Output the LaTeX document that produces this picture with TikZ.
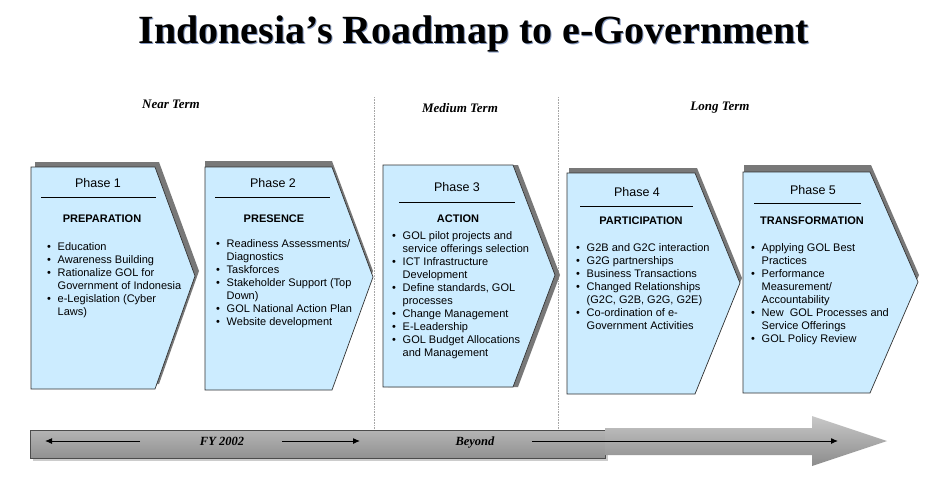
\documentclass[tikz,border=0pt]{standalone}
\usepackage{fontspec}
\setmainfont{Liberation Serif}
\newfontfamily\arialf{Liberation Sans}
\usetikzlibrary{arrows.meta}
\definecolor{boxfill}{RGB}{204,236,255}
\definecolor{boxline}{RGB}{50,50,50}
\definecolor{shadowgray}{RGB}{120,120,120}
\definecolor{titleshadow}{RGB}{130,150,190}
\tikzset{
 phasebox/.style={fill=boxfill, draw=boxline, line width=0.7pt},
 phaseshadow/.style={fill=shadowgray, draw=none},
 phasetitle/.style={font=\arialf\fontsize{12.5}{14}\selectfont, inner sep=0pt},
 phasehead/.style={font=\arialf\bfseries\fontsize{11}{13}\selectfont, inner sep=0pt},
 itemlist/.style={font=\arialf\fontsize{11}{13}\selectfont, inner sep=0pt, anchor=north west},
 rulestyle/.style={draw=black, line width=0.8pt},
 term/.style={font=\bfseries\itshape\fontsize{13}{15}\selectfont, inner sep=0pt},
 barlabel/.style={font=\bfseries\itshape\fontsize{12.5}{14}\selectfont, inner sep=0pt, anchor=base},
 divider/.style={draw=gray!70, densely dotted, line width=0.6pt},
 bararrow/.style={draw=black, line width=1pt, -{Latex[length=7pt,width=6pt]}},
}
\newcommand\bl{\makebox[10.5pt][l]{\textbullet}}
\newcommand\phaseshape[6]{(#1,#2) -- (#3,#2) -- (#4,#5) -- (#3,#6) -- (#1,#6) -- cycle}
\begin{document}
\begin{tikzpicture}[x=1pt,y=-1pt]
\useasboundingbox (0,0) rectangle (932,482);
\fill[white] (0,0) rectangle (932,482);
% title
\node[anchor=base, inner sep=0pt, font=\bfseries\fontsize{40}{44}\selectfont, text=titleshadow] (titleshadow) at (475,44) {Indonesia’s Roadmap to e-Government};
\node[anchor=base, inner sep=0pt, font=\bfseries\fontsize{40}{44}\selectfont] (title) at (474,43) {Indonesia’s Roadmap to e-Government};
% terms
\node[term] (near) at (171,104) {Near Term};
\node[term] (medium) at (460,108) {Medium Term};
\node[term] (long) at (720,108) {Long Term};
% dividers
\coordinate (d1t) at (374,97); \coordinate (d1b) at (374,430);
\coordinate (d2t) at (558,97); \coordinate (d2b) at (558,430);
\draw[divider] (d1t) -- (d1b);
\draw[divider] (d2t) -- (d2b);
% Phase 1
\fill[phaseshadow, shift={(4,-5)}] \phaseshape{31}{167}{155}{195}{276}{389};
\draw[phasebox] \phaseshape{31}{167}{155}{195}{276}{389};
\node[phasetitle] (p1t) at (98,183) {Phase 1};
\coordinate (p1l) at (41,197); \coordinate (p1r) at (156,197);
\draw[rulestyle] (p1l) -- (p1r);
\node[phasehead] (p1h) at (102,219) {PREPARATION};
\node[itemlist] (p1i) at (47,241) {\begin{tabular}{@{}l@{}l@{}}
\bl & Education\\
\bl & Awareness Building\\
\bl & Rationalize GOL for\\
 & Government of Indonesia\\
\bl & e-Legislation (Cyber\\
 & Laws)
\end{tabular}};
% Phase 2
\fill[phaseshadow, shift={(0,-6)}] \phaseshape{205}{167}{332}{373}{277}{390};
\draw[phasebox] \phaseshape{205}{167}{332}{373}{277}{390};
\node[phasetitle] (p2t) at (273,183) {Phase 2};
\coordinate (p2l) at (215,197); \coordinate (p2r) at (330,197);
\draw[rulestyle] (p2l) -- (p2r);
\node[phasehead] (p2h) at (274,219) {PRESENCE};
\node[itemlist] (p2i) at (216,238) {\begin{tabular}{@{}l@{}l@{}}
\bl & Readiness Assessments/\\
 & Diagnostics\\
\bl & Taskforces\\
\bl & Stakeholder Support (Top\\
 & Down)\\
\bl & GOL National Action Plan\\
\bl & Website development
\end{tabular}};
% Phase 3
\fill[phaseshadow, shift={(5,0)}] \phaseshape{383}{165}{513}{555}{275}{387};
\draw[phasebox] \phaseshape{383}{165}{513}{555}{275}{387};
\node[phasetitle] (p3t) at (457,187) {Phase 3};
\coordinate (p3l) at (399,202); \coordinate (p3r) at (515,202);
\draw[rulestyle] (p3l) -- (p3r);
\node[phasehead] (p3h) at (458,219) {ACTION};
\node[itemlist] (p3i) at (392,230) {\begin{tabular}{@{}l@{}l@{}}
\bl & GOL pilot projects and\\
 & service offerings selection\\
\bl & ICT Infrastructure\\
 & Development\\
\bl & Define standards, GOL\\
 & processes\\
\bl & Change Management\\
\bl & E-Leadership\\
\bl & GOL Budget Allocations\\
 & and Management
\end{tabular}};
% Phase 4
\fill[phaseshadow, shift={(2,-5)}] \phaseshape{567}{173}{695}{740}{283}{394};
\draw[phasebox] \phaseshape{567}{173}{695}{740}{283}{394};
\node[phasetitle] (p4t) at (637,192) {Phase 4};
\coordinate (p4l) at (580,206); \coordinate (p4r) at (693,206);
\draw[rulestyle] (p4l) -- (p4r);
\node[phasehead] (p4h) at (641,221) {PARTICIPATION};
\node[itemlist] (p4i) at (576,242) {\begin{tabular}{@{}l@{}l@{}}
\bl & G2B and G2C interaction\\
\bl & G2G partnerships\\
\bl & Business Transactions\\
\bl & Changed Relationships\\
 & (G2C, G2B, G2G, G2E)\\
\bl & Co-ordination of e-\\
 & Government Activities
\end{tabular}};
% Phase 5
\fill[phaseshadow, shift={(1,-7)}] \phaseshape{743}{172}{870}{918}{282}{393};
\draw[phasebox] \phaseshape{743}{172}{870}{918}{282}{393};
\node[phasetitle] (p5t) at (813,190) {Phase 5};
\coordinate (p5l) at (754,203); \coordinate (p5r) at (861,203);
\draw[rulestyle] (p5l) -- (p5r);
\node[phasehead] (p5h) at (812,221) {TRANSFORMATION};
\node[itemlist] (p5i) at (751,242) {\begin{tabular}{@{}l@{}l@{}}
\bl & Applying GOL Best\\
 & Practices\\
\bl & Performance\\
 & Measurement/\\
 & Accountability\\
\bl & New\ \ GOL Processes and\\
 & Service Offerings\\
\bl & GOL Policy Review
\end{tabular}};
% timeline bar
\fill[gray!40] (33,433) rectangle (608,461);
\shade[top color={rgb,255:red,180;green,180;blue,180}, bottom color={rgb,255:red,145;green,145;blue,145}] (30,430) rectangle (605,458);
\draw[gray!60!black, line width=0.4pt] (30,430) rectangle (605,458);
\shade[top color={rgb,255:red,200;green,200;blue,200}, bottom color={rgb,255:red,140;green,140;blue,140}]
 (605,428) -- (812,428) -- (812,416) -- (887,441) -- (812,466) -- (812,455) -- (605,455) -- cycle;
\node[barlabel] (fy) at (222,445) {FY 2002};
\node[barlabel] (beyond) at (475,445) {Beyond};
\coordinate (a1s) at (140,441); \coordinate (a1e) at (45,441);
\coordinate (a2s) at (282,441); \coordinate (a2e) at (360,441);
\coordinate (a3s) at (532,441); \coordinate (a3e) at (838,441);
\draw[bararrow] (a1s) -- (a1e);
\draw[bararrow] (a2s) -- (a2e);
\draw[bararrow] (a3s) -- (a3e);
\end{tikzpicture}
\end{document}
